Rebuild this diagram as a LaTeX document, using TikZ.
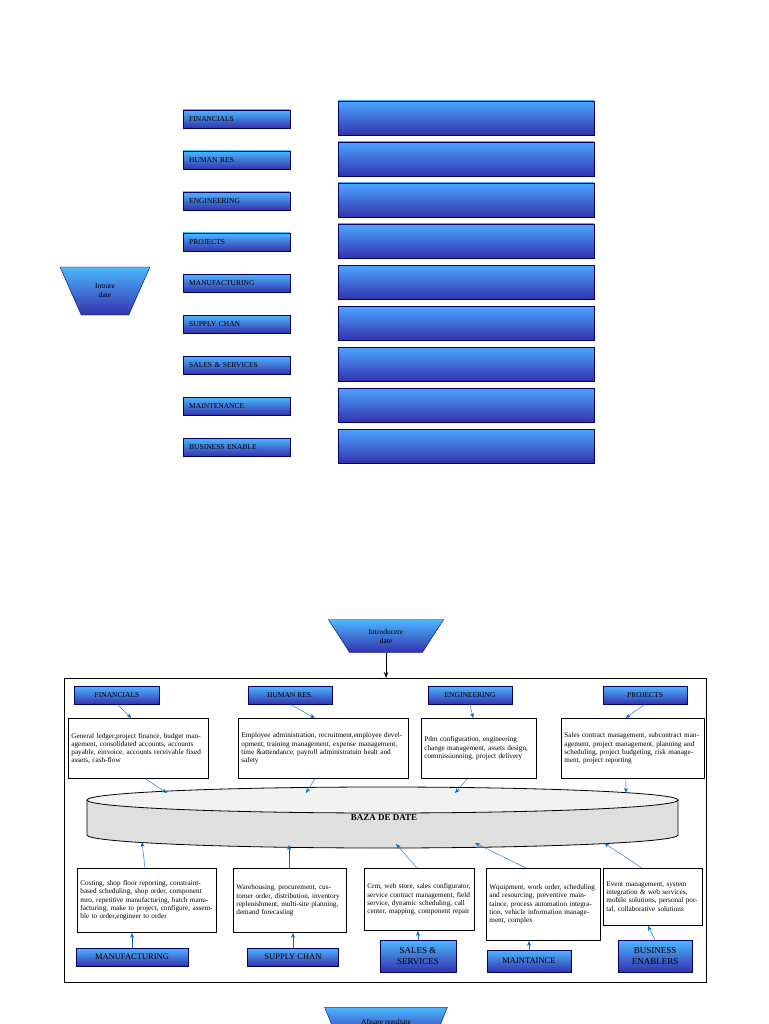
\documentclass[tikz,border=0pt]{standalone}
\usepackage{fontspec}
\setmainfont{Liberation Serif}
\usepackage{tikz}
\usetikzlibrary{positioning,calc,shapes.geometric,arrows.meta}
\tikzset{
  bluebox/.style={draw=blue!40!black,top color=blue!40!cyan!70,bottom color=blue!60!black!80,
    font=\fontsize{7.5}{8.5}\selectfont, inner sep=1pt, align=left},
  bigbox/.style={draw=blue!40!black,top color=blue!50!cyan!70,bottom color=blue!60!black!80},
  textbox/.style={draw,thick,fill=white,font=\fontsize{7.2}{8.2}\selectfont,align=left,anchor=north west,inner sep=3pt},
  link/.style={-{Stealth[length=5pt]},draw=blue!50!cyan!80!black,thin},
  trap/.style={trapezium,shape border rotate=180,trapezium stretches=true,draw=blue!40!black,
    top color=blue!40!cyan!70,bottom color=blue!60!black!80,font=\fontsize{7.5}{9}\selectfont,align=center}
}
\begin{document}
\begin{tikzpicture}[x=1pt,y=-1pt]
\useasboundingbox (0,0) rectangle (768,1024);
% upper part
\node[trap,minimum width=90,minimum height=48] (intrare) at (105,291) {Intrare\\date};
\foreach \lbl [count=\i] in {FINANCIALS,HUMAN RES.,ENGINEERING,PROJECTS,MANUFACTURING,SUPPLY CHAN,SALES \& SERVICES,MAINTENANCE,BUSINESS ENABLE}{
  \node[bluebox,minimum width=107,minimum height=18,anchor=west,text width=95,inner sep=6pt,inner ysep=1pt] (mod\i) at (183,{119+41*(\i-1)}) {\lbl};
  \node[bigbox,minimum width=256,minimum height=34] (res\i) at (466,{118+41*(\i-1)}) {};
}
% lower part
\node[trap,minimum width=116,minimum height=33] (intro) at (386,636) {Introducere\\date};
\draw[thick] (64,678) rectangle (706,982);
\coordinate (frametop) at (386,678);
\draw[-{Stealth[length=6pt]},thick] (intro) -- (frametop);
\node[trap,minimum width=123,minimum height=30,anchor=north] (afisare) at (386,1007) {Afisare rezultate};
% database
\fill[gray!25] (87,800) -- (87,835) arc[x radius=295.5,y radius=13,start angle=180,end angle=0] -- (678,800) -- cycle;
\draw[thick] (87,800) -- (87,835) arc[x radius=295.5,y radius=13,start angle=180,end angle=0] -- (678,800);
\draw[thick,fill=gray!10] (382.5,800) ellipse[x radius=295.5,y radius=13];
\node[font=\bfseries\fontsize{9}{10}\selectfont] (baza) at (384,818) {BAZA DE DATE};
% top modules
\node[bluebox,minimum width=85,minimum height=18,align=center] (fin) at (117,695) {FINANCIALS};
\node[bluebox,minimum width=84,minimum height=18,align=center] (hum) at (290,695) {HUMAN RES.};
\node[bluebox,minimum width=84,minimum height=18,align=center] (eng) at (470,695) {ENGINEERING};
\node[bluebox,minimum width=84,minimum height=18,align=center] (proj) at (645,695) {PROJECTS};
\node[textbox,text width=134,minimum height=60] (tfin) at (68,718) {\raggedright General ledger,project finance, budget management, consolidated accounts, accounts payable, einvoice, accounts receivable fixed assets, cash-flow};
\node[textbox,text width=164,minimum height=60] (thum) at (238,718) {\raggedright Employee administration, recruitment,employee development, training management, expense management, time \&attendance, payroll administratuin healt and safety};
\node[textbox,text width=109,minimum height=60] (teng) at (421,718) {\raggedright Pdm configuration, engineering change management, assets design, commissionning, project delivery};
\node[textbox,text width=137,minimum height=60] (tproj) at (561,718) {\raggedright Sales contract management, subcontract management, project management, planning and scheduling, project budgeting, risk management, project reporting};
\draw[link] (fin.south) -- ($(tfin.north west)!0.45!(tfin.north east)$);
\draw[link] (hum.south) -- ($(thum.north west)!0.45!(thum.north east)$);
\draw[link] (eng.south) -- ($(teng.north west)!0.45!(teng.north east)$);
\draw[link] (proj.south) -- ($(tproj.north west)!0.45!(tproj.north east)$);
\draw[link] ($(tfin.south west)!0.55!(tfin.south east)$) -- (167,793);
\draw[link] ($(thum.south west)!0.45!(thum.south east)$) -- (306,793);
\draw[link] ($(teng.south west)!0.4!(teng.south east)$) -- (455,793);
\draw[link] ($(tproj.south west)!0.45!(tproj.south east)$) -- (626,793);
% bottom modules
\node[textbox,text width=133,minimum height=64] (tman) at (77,868) {\raggedright Costing, shop floor reporting, constraint-based scheduling, shop order, component mro, repetitive manufacturing, batch manufacturing, make to project, configure, assemble to order,engineer to order};
\node[textbox,text width=107,minimum height=64] (tsup) at (233,868) {\raggedright Warehousing, procurement, customer order, distribution, inventory replenishment, multi-site planning, demand forecasting};
\node[textbox,text width=104,minimum height=62] (tsal) at (364,868) {\raggedright Crm, web store, sales configurator, service contract management, field service, dynamic scheduling, call center, mapping, component repair};
\node[textbox,text width=108,minimum height=72] (tmai) at (486,868) {\raggedright Wquipment, work order, scheduling and resourcing, preventive maintaince, process automation integration, vehicle information management, complex};
\node[textbox,text width=93,minimum height=57] (tbus) at (603,868) {\raggedright Event management, system integration \& web services, mobile solutions, personal portal, collaborative solutions};
\node[bluebox,minimum width=112,minimum height=18,align=center,font=\fontsize{8.5}{10}\selectfont] (man) at (132,957) {MANUFACTURING};
\node[bluebox,minimum width=91,minimum height=18,align=center,font=\fontsize{8.5}{10}\selectfont] (sup) at (293,957) {SUPPLY CHAN};
\node[bluebox,minimum width=76,minimum height=32,align=center,font=\fontsize{9}{10.5}\selectfont] (sal) at (418,956) {SALES \&\\SERVICES};
\node[bluebox,minimum width=84,minimum height=22,align=center,font=\fontsize{8.5}{10}\selectfont] (mai) at (529,961) {MAINTAINCE};
\node[bluebox,minimum width=74,minimum height=32,align=center,font=\fontsize{9}{10.5}\selectfont] (bus) at (655,956) {BUSINESS\\ENABLERS};
\draw[link] (man.north) -- (man.north |- tman.south);
\draw[link] (sup.north) -- (sup.north |- tsup.south);
\draw[link] (sal.north) -- (sal.north |- tsal.south);
\draw[link] (mai.north) -- (mai.north |- tmai.south);
\draw[link] (bus.north) -- ($(tbus.south west)!0.45!(tbus.south east)$);
\draw[link] (145,868) -- (142,842);
\draw[link] (289,868) -- (289,845);
\draw[link] (417,868) -- (396,844);
\draw[link] (526,868) -- (475,843);
\draw[link] (642,868) -- (604,843);
\end{tikzpicture}
\end{document}
